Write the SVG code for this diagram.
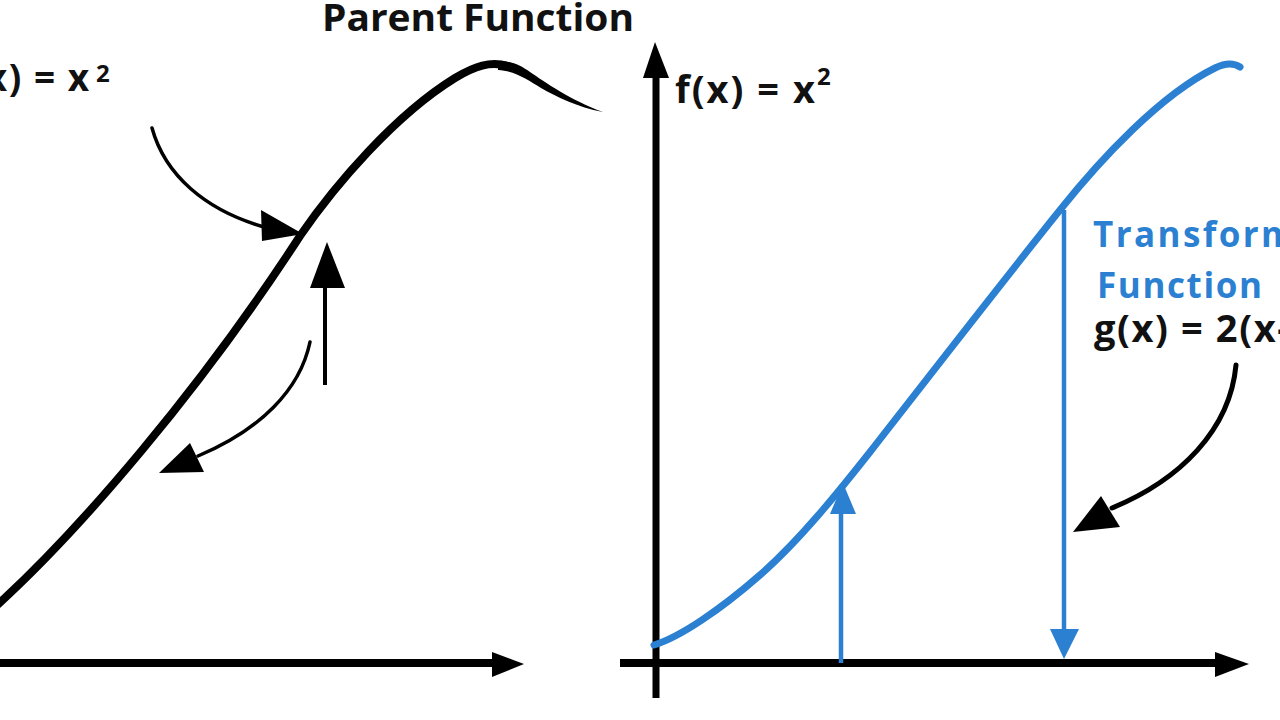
<svg xmlns="http://www.w3.org/2000/svg" width="1280" height="720" viewBox="0 0 1280 720">
<style>
.t{font-family:"Open Sans","Noto Sans","Liberation Sans",sans-serif;font-weight:700;fill:#111}
.b{fill:#2b80d2}
.ax{stroke:#000;stroke-width:8;fill:none}
.thin{stroke:#000;fill:none;stroke-linecap:round}
.hk{fill:#000}
.hb{fill:#2b80d2}
</style>
<rect width="1280" height="720" fill="#fff"/>
<g id="title"><text class="t" x="322" y="31" font-size="37" textLength="312" lengthAdjust="spacingAndGlyphs">Parent Function</text></g>
<g id="left-label"><text class="t" x="-44" y="91" font-size="37" letter-spacing="1.5">f(x) = x</text><text class="t" x="96" y="82" font-size="24">2</text></g>
<g id="left-curve">
<path d="M -6,608 C 80,530 200,390 300,236 C 335,185 395,115 455,78 C 475,66 490,61 508,66" stroke="#000" stroke-width="8" fill="none" stroke-linecap="round"/>
<path d="M 498,61 C 512,61 520,65 530,72 C 545,82 570,100 603,112 C 577,107 557,97 541,88 C 528,80 515,71 498,70 Z" fill="#000"/>
</g>
<g id="left-axis">
<line x1="-5" y1="663" x2="496" y2="663" class="ax"/>
<polygon class="hk" points="524,664 492,652 492,677"/>
</g>
<g id="right-panel-axes">
<line x1="656" y1="698" x2="656" y2="72" stroke="#000" stroke-width="7"/>
<polygon class="hk" points="655,42 643,78 669,78"/>
<line x1="620" y1="663" x2="1218" y2="663" class="ax"/>
<polygon class="hk" points="1249,664 1215,652 1215,677"/>
</g>
<g id="right-label"><text class="t" x="675" y="103" font-size="38" letter-spacing="2">f(x) = x</text><text class="t" x="817" y="85" font-size="24">2</text></g>
<g id="blue-curve">
<path d="M 654,645 C 680,637 720,610 760,575 C 800,540 840,490 870,452 C 930,375 1010,272 1060,210 C 1100,160 1160,95 1215,68 C 1225,63 1234,63 1240,67" stroke="#2b80d2" stroke-width="7" fill="none" stroke-linecap="round"/>
</g>
<g id="transform-label">
<text class="t b" x="1093" y="247" font-size="35" letter-spacing="2.4">Transform</text>
<text class="t b" x="1097" y="298" font-size="35" letter-spacing="1.6">Function</text>
<text class="t" x="1094" y="342" font-size="38" letter-spacing="1.6">g(x) = 2(x-</text>
</g>
<g id="connectors">
<path class="thin" stroke-width="3.5" d="M 152,128 C 165,175 205,210 264,227"/>
<polygon class="hk" points="303,234 261,210 262,241"/>
<line x1="325" y1="385" x2="325" y2="285" stroke="#000" stroke-width="4"/>
<polygon class="hk" points="327,242 310,288 345,288"/>
<path class="thin" stroke-width="3.5" d="M 310,342 C 300,390 260,430 198,456"/>
<polygon class="hk" points="159,473 190,443 204,472"/>
<line x1="841" y1="663" x2="841" y2="510" stroke="#2b80d2" stroke-width="4.5"/>
<polygon class="hb" points="843,483 830,514 856,514"/>
<line x1="1064" y1="210" x2="1064" y2="632" stroke="#2b80d2" stroke-width="4.5"/>
<polygon class="hb" points="1064,659 1050,629 1079,629"/>
<path class="thin" stroke-width="5" d="M 1236,365 C 1230,430 1180,480 1112,508"/>
<polygon class="hk" points="1073,532 1101,496 1120,527"/>
</g>
</svg>
